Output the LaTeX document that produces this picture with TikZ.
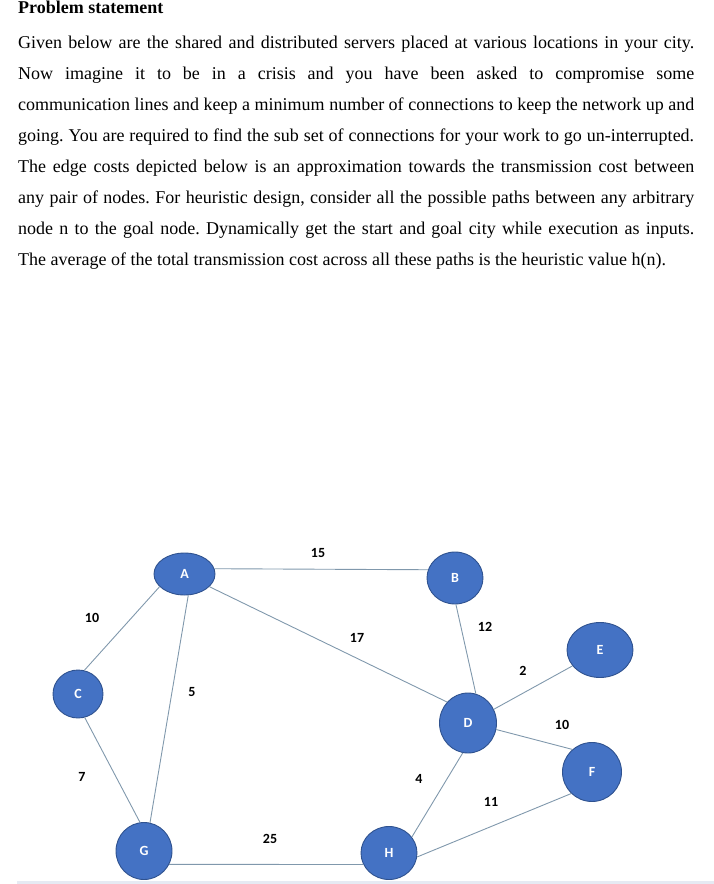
\documentclass[tikz,border=0pt]{standalone}
\usepackage{fontspec}
\setmainfont{Liberation Serif}
\newfontfamily\lblfont{Carlito}
\usetikzlibrary{shapes.geometric,positioning}

\definecolor{srvblue}{HTML}{4472C4}
\definecolor{srvedge}{HTML}{2F528F}
\definecolor{linkgray}{RGB}{128,152,172}
\definecolor{stripblue}{HTML}{E6EAF3}

\begin{document}
\frenchspacing
\begin{tikzpicture}[
  x=1pt, y=1pt,
  txtline/.style={inner sep=0pt, anchor=base west,
    font=\fontsize{18}{22}\selectfont},
  server/.style={ellipse, draw=srvedge, line width=0.9pt, fill=srvblue,
    text=white, inner sep=0pt,
    font=\lblfont\bfseries\fontsize{14}{14}\selectfont},
  link/.style={draw=linkgray, line width=0.9pt},
  cost/.style={inner sep=1pt,
    font=\lblfont\bfseries\fontsize{14}{14}\selectfont},
]
\useasboundingbox (0,0) rectangle (714,-884);

% Problem text
\node[txtline, font=\fontsize{18}{22}\selectfont\bfseries] (title) at (18,-13) {Problem statement};
\node[txtline] (l1) at (18,-48) {\makebox[676pt][s]{Given below are the shared and distributed servers placed at various locations in your city.}};
\node[txtline, below=31pt of l1.base west, anchor=base west] (l2) {\makebox[676pt][s]{Now imagine it to be in a crisis and you have been asked to compromise some}};
\node[txtline, below=31pt of l2.base west, anchor=base west] (l3) {\makebox[676pt][s]{communication lines and keep a minimum number of connections to keep the network up and}};
\node[txtline, below=31pt of l3.base west, anchor=base west] (l4) {\makebox[676pt][s]{going. You are required to find the sub set of connections for your work to go un-interrupted.}};
\node[txtline, below=31pt of l4.base west, anchor=base west] (l5) {\makebox[676pt][s]{The edge costs depicted below is an approximation towards the transmission cost between}};
\node[txtline, below=31pt of l5.base west, anchor=base west] (l6) {\makebox[676pt][s]{any pair of nodes. For heuristic design, consider all the possible paths between any arbitrary}};
\node[txtline, below=31pt of l6.base west, anchor=base west] (l7) {\makebox[676pt][s]{node n to the goal node. Dynamically get the start and goal city while execution as inputs.}};
\node[txtline, below=31pt of l7.base west, anchor=base west] (l8) {The average of the total transmission cost across all these paths is the heuristic value h(n).};

% Servers
\node[server, minimum width=61pt, minimum height=42pt] (A) at (184.5,-574) {A};
\node[server, minimum width=56pt, minimum height=52pt] (B) at (455,-578) {B};
\node[server, minimum width=50pt, minimum height=48pt] (C) at (78,-694) {C};
\node[server, minimum width=57pt, minimum height=60pt] (D) at (468,-723) {D};
\node[server, minimum width=66pt, minimum height=55pt] (E) at (600,-650) {E};
\node[server, minimum width=59pt, minimum height=59pt] (F) at (592,-772) {F};
\node[server, minimum width=56pt, minimum height=57pt] (G) at (144,-851) {G};
\node[server, minimum width=56pt, minimum height=53pt] (H) at (389,-853) {H};

% Links
\draw[link] (A.10) -- (B.163);
\draw[link] (A.207) -- (C.75);
\draw[link] (A.280) -- (G.78);
\draw[link] (A.333) -- (D.135);
\draw[link] (C.286) -- (G.98);
\draw[link] (G.332) -- (H.204);
\draw[link] (B.272) -- (D.75);
\draw[link] (D.28) -- (E.210);
\draw[link] (D.347) -- (F.131);
\draw[link] (D.260) -- (H.35);
\draw[link] (H.352) -- (F.226);

% Costs
\node[cost] (cAB) at (318,-553) {15};
\node[cost] (cAC) at (92,-618) {10};
\node[cost] (cAD) at (357,-638) {17};
\node[cost] (cAG) at (192,-692) {5};
\node[cost] (cCG) at (82,-777) {7};
\node[cost] (cGH) at (270,-839) {25};
\node[cost] (cBD) at (485,-627) {12};
\node[cost] (cDE) at (523,-671) {2};
\node[cost] (cDF) at (562,-725) {10};
\node[cost] (cDH) at (419,-779) {4};
\node[cost] (cHF) at (491,-802) {11};

\fill[stripblue] (17,-881) rectangle (714,-884);
\end{tikzpicture}
\end{document}
